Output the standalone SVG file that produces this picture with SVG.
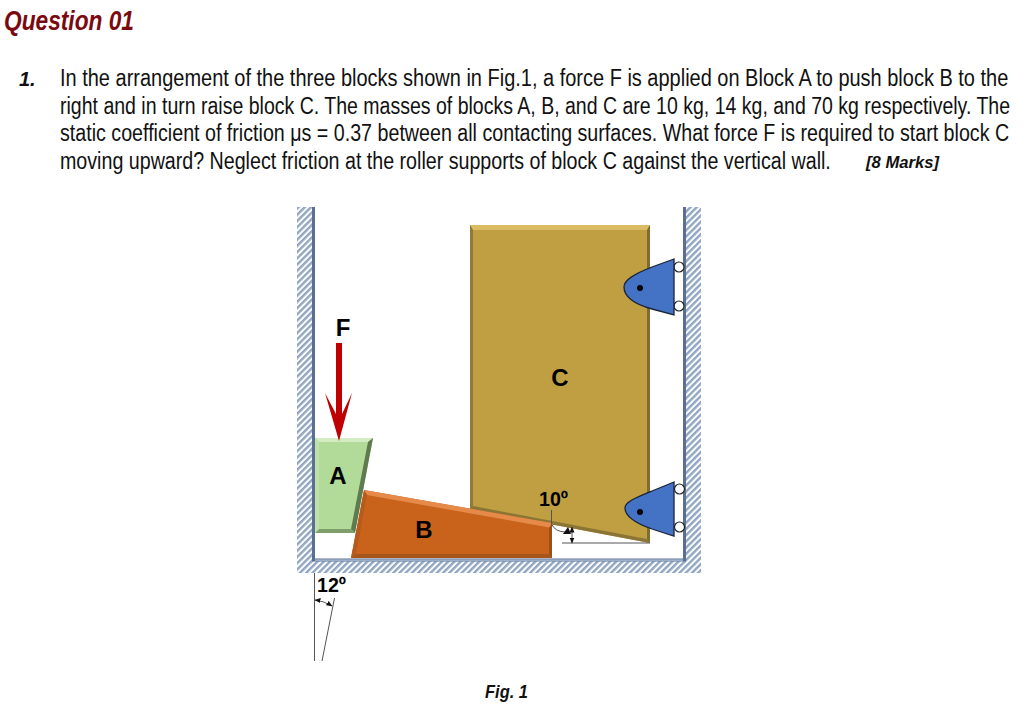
<svg xmlns="http://www.w3.org/2000/svg" width="1035" height="712" viewBox="0 0 1035 712">
<style>
.t{font-family:"Liberation Sans",Arial,sans-serif;fill:#111}
.b{font-size:23px}
.l{font-family:"Liberation Sans",Arial,sans-serif;font-weight:bold;font-size:24px;text-anchor:middle;fill:#000}
.d{font-family:"Liberation Sans",Arial,sans-serif;font-weight:bold;font-size:20px;fill:#000}
.bi{font-weight:bold;font-style:italic}
.thin{fill:none;stroke:#555;stroke-width:1}
.roll{fill:#4472c4;stroke:#1a2438;stroke-width:1.3}
.wheel{fill:#fff;stroke:#222;stroke-width:1.2}
</style>
<defs>
<pattern id="hatch" width="4.4" height="4.4" patternUnits="userSpaceOnUse" patternTransform="rotate(45)">
<rect width="4.4" height="4.4" fill="#fff"/><rect width="2.400" height="4.4" fill="#91a6c2"/>
</pattern>
<filter id="soft" x="-5%" y="-5%" width="110%" height="110%"><feGaussianBlur stdDeviation="0.6"/></filter>
<marker id="ah" viewBox="0 0 6 6" refX="5.500" refY="3" markerWidth="6" markerHeight="6" markerUnits="userSpaceOnUse" orient="auto-start-reverse"><path d="M0 0.500L6 3L0 5.500Z" fill="#111"/></marker>
</defs>
<rect width="1035" height="712" fill="#fff"/>

<text class="t bi" x="4" y="30" font-size="27" style="fill:#7b0a10" textLength="130" lengthAdjust="spacingAndGlyphs">Question 01</text>
<text class="t bi" x="19" y="86" font-size="20">1.</text>
<g id="body">
<text class="t b" transform="translate(60 86) scale(0.87 1)" textLength="1090" lengthAdjust="spacingAndGlyphs">In the arrangement of the three blocks shown in Fig.1, a force F is applied on Block A to push block B to the</text>
<text class="t b" transform="translate(60 114) scale(0.87 1)" textLength="1092" lengthAdjust="spacingAndGlyphs">right and in turn raise block C. The masses of blocks A, B, and C are 10 kg, 14 kg, and 70 kg respectively. The</text>
<text class="t b" transform="translate(60 141) scale(0.87 1)" textLength="1091" lengthAdjust="spacingAndGlyphs">static coefficient of friction μs = 0.37 between all contacting surfaces. What force F is required to start block C</text>
<text class="t b" transform="translate(60 169) scale(0.87 1)" textLength="886" lengthAdjust="spacingAndGlyphs">moving upward? Neglect friction at the roller supports of block C against the vertical wall.</text>
</g>
<text class="t bi" x="866" y="168" font-size="17" textLength="73" lengthAdjust="spacingAndGlyphs">[8 Marks]</text>

<g id="walls">
<rect x="297" y="207" width="15" height="366" fill="url(#hatch)"/>
<rect x="686" y="207" width="15" height="366" fill="url(#hatch)"/>
<rect x="297" y="561" width="404" height="12" fill="url(#hatch)"/>
<path d="M313.500 207V560H684.500V207" fill="none" stroke="#5a6f91" stroke-width="3"/>
<path d="M315 560.300H683" fill="none" stroke="#9cafc8" stroke-width="2"/>
</g>

<g id="block-c">
<g filter="url(#soft)">
<path d="M470 225H650V543L470 509Z" fill="#bf9f42"/>
<path d="M470 225H650L647 230H473Z" fill="#dcbc62"/>
<path d="M470 225L473 230V506L470 509Z" fill="#8f7a38"/>
<path d="M650 225V543L647 539V230Z" fill="#7f6c30"/>
<path d="M470 509L473 506L647 539L650 543Z" fill="#8a7534"/>
</g>
<text class="l" x="560" y="386">C</text>
</g>

<g id="block-a">
<g filter="url(#soft)">
<path d="M315 438H373L355 533H315Z" fill="#b2da98"/>
<path d="M315 438H373L368 442H319Z" fill="#d3ecc2"/>
<path d="M373 438L355 533L351 529L368 442Z" fill="#5f7a50"/>
<path d="M315 533H355L351 529H319Z" fill="#7e9f6c"/>
<path d="M315 438L319 442V529L315 533Z" fill="#c0e0aa"/>
</g>
<text class="l" x="338" y="484">A</text>
</g>

<g id="block-b">
<g filter="url(#soft)">
<path d="M364 490L552 523V558H351Z" fill="#c9631d"/>
<path d="M364 490L552 523V528L367 495Z" fill="#e58a4a"/>
<path d="M364 490L367 495L356 554L351 558Z" fill="#b85a1a"/>
<path d="M552 523V558L549 554V528Z" fill="#9a4f1a"/>
<path d="M351 558H552L549 554H356Z" fill="#a6541c"/>
</g>
<text class="l" x="424" y="538">B</text>
</g>

<g id="force-f">
<path d="M336 343H342V414L352 393L339 441L325 393L336 414Z" fill="#c00000"/>
<text class="l" x="343" y="336">F</text>
</g>

<g id="roller-top">
<circle class="wheel" cx="679" cy="267" r="5"/>
<circle class="wheel" cx="679" cy="306" r="5"/>
<path class="roll" d="M674 259L652 267C634 274 624 280 624 287C624 296 634 304 652 309L674 315Z"/>
<circle cx="640" cy="288" r="3" fill="#000"/>
</g>
<g id="roller-bottom">
<circle class="wheel" cx="679.500" cy="489" r="5"/>
<circle class="wheel" cx="679.500" cy="527" r="5"/>
<path class="roll" d="M674 482L652 491C635 498 625 502 625 508C625 516 635 523 652 529L674 536Z"/>
<circle cx="640" cy="512" r="3" fill="#000"/>
</g>

<g id="connectors">
<path class="thin" d="M314.500 573V661"/>
<path class="thin" d="M334.500 598L322 661"/>
<path class="thin" d="M315 600Q324 601 332 606" marker-start="url(#ah)" marker-end="url(#ah)"/>
<path class="thin" d="M551.500 510V524Q555 532 566 532"/>
<path class="thin" d="M562 543H650"/>
<path class="thin" d="M572 527V543" marker-start="url(#ah)" marker-end="url(#ah)"/>
<path d="M563 534L568 527L571 534Z" fill="#111"/>
</g>

<text class="d" x="539" y="506" textLength="29" lengthAdjust="spacingAndGlyphs">10º</text>
<text class="d" x="317" y="592" textLength="29" lengthAdjust="spacingAndGlyphs">12º</text>
<text class="t bi" x="485" y="698" font-size="19" textLength="43" lengthAdjust="spacingAndGlyphs">Fig. 1</text>
</svg>
